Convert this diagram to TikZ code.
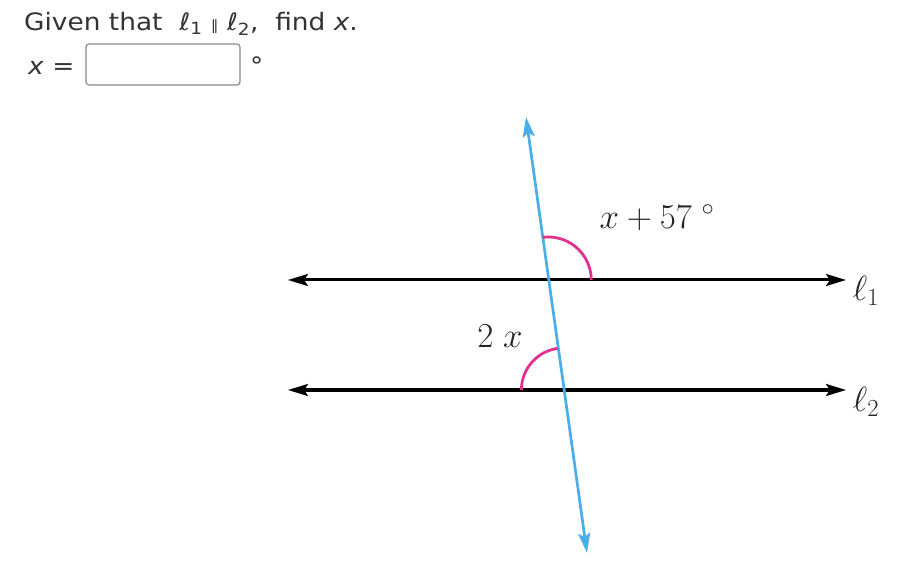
\documentclass[tikz,border=0pt]{standalone}
\usepackage{fix-cm}
\usepackage{fontspec}
\setmainfont{DejaVu Sans}[FakeStretch=1.1]
\usetikzlibrary{arrows.meta}
\definecolor{tblue}{HTML}{4BAEE8}
\definecolor{tpink}{HTML}{E0338F}
\definecolor{tgray}{HTML}{333333}
\definecolor{boxgray}{HTML}{8A8A8A}
\tikzset{
  parline/.style={line width=3pt,black,{Stealth[length=20pt,width=12pt,inset=4pt]}-{Stealth[length=20pt,width=12pt,inset=4pt]}},
  transv/.style={line width=2.7pt,tblue,{Stealth[length=20pt,width=12pt,inset=4pt]}-{Stealth[length=20pt,width=12pt,inset=4pt]}},
  anglearc/.style={line width=2.8pt,tpink},
  qtext/.style={inner sep=0pt,anchor=base west,text=tgray,font=\fontsize{24}{28}\selectfont},
  mlabel/.style={inner sep=0pt,text=black!85,font=\fontsize{35}{40}\selectfont},
}
\begin{document}
\begin{tikzpicture}[x=1pt,y=1pt]
\useasboundingbox (0,0) rectangle (914,-572);
% question text
\node[qtext] (q) at (24,-31) {Given that\ \ ℓ\textsubscript{1}\ {\fontsize{14}{14}\selectfont ∥}\ ℓ\textsubscript{2},\ \ find \textit{x}.};
\node[qtext] (xeq) at (28,-75) {\textit{x} =};
\draw[boxgray,line width=1.2pt,rounded corners=3pt] (86,-44) rectangle (240,-85);
\node (ansbox) at (163,-64.5) {};
\node[qtext] (deg) at (250,-75) {°};
% geometry
\coordinate (L1a) at (288,-280);
\coordinate (L1b) at (846,-280);
\coordinate (L2a) at (288,-390);
\coordinate (L2b) at (846,-390);
\coordinate (Ttop) at (526,-117);
\coordinate (Tbot) at (587,-553);
\coordinate (P1) at (548.3,-280);
\coordinate (P2) at (563.4,-390);
\draw[parline] (L1a) -- (L1b);
\draw[parline] (L2a) -- (L2b);
\draw[transv] (Ttop) -- (Tbot);
\draw[anglearc] ([shift={(0:43)}]P1) arc[start angle=0,end angle=97.8,radius=43];
\draw[anglearc] ([shift={(97.8:42)}]P2) arc[start angle=97.8,end angle=180,radius=42];
% labels
\node[mlabel] (a1) at (657,-218) {$x+57\;^{\circ}$};
\node[mlabel] (a2) at (500,-336) {$2\;x$};
\node[mlabel] (l1) at (866,-291) {$\ell_1$};
\node[mlabel] (l2) at (866,-402) {$\ell_2$};
\end{tikzpicture}
\end{document}
